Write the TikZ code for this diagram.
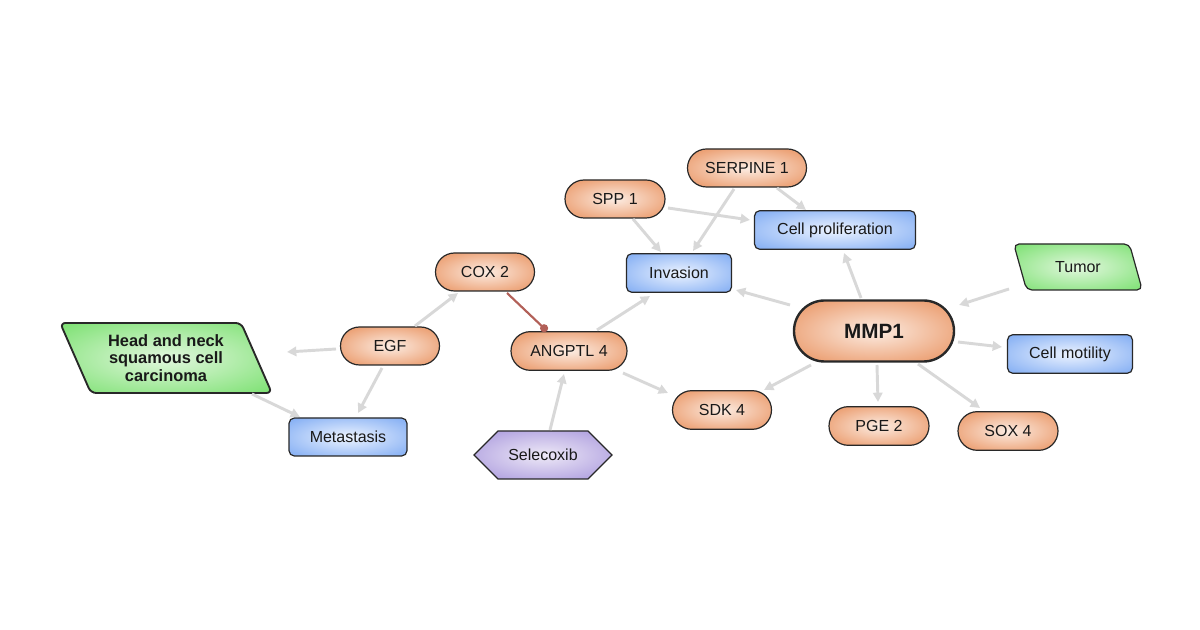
\documentclass[tikz,border=0pt]{standalone}
\usepackage{fontspec}
\setmainfont{Liberation Sans}
\usetikzlibrary{shapes.misc,shapes.geometric,shapes.symbols,arrows.meta,calc}
\definecolor{orIn}{RGB}{252,236,226}
\definecolor{orOut}{RGB}{234,152,104}
\definecolor{blIn}{RGB}{236,243,255}
\definecolor{blOut}{RGB}{136,177,244}
\definecolor{grIn}{RGB}{226,247,222}
\definecolor{grOut}{RGB}{130,226,120}
\definecolor{puIn}{RGB}{238,233,247}
\definecolor{puOut}{RGB}{172,156,222}
\definecolor{edgeC}{RGB}{216,216,216}
\definecolor{inhC}{RGB}{178,96,88}
\definecolor{lineC}{RGB}{40,40,40}
\definecolor{txtC}{RGB}{25,25,25}
\pgfdeclareradialshading{orsh}{\pgfpoint{0bp}{0bp}}{color(0bp)=(orIn); color(33bp)=(orOut); color(50bp)=(orOut)}
\pgfdeclareradialshading{blsh}{\pgfpoint{0bp}{0bp}}{color(0bp)=(blIn); color(33bp)=(blOut); color(50bp)=(blOut)}
\pgfdeclareradialshading{grsh}{\pgfpoint{0bp}{0bp}}{color(0bp)=(grIn); color(33bp)=(grOut); color(50bp)=(grOut)}
\pgfdeclareradialshading{push}{\pgfpoint{0bp}{0bp}}{color(0bp)=(puIn); color(33bp)=(puOut); color(50bp)=(puOut)}
\tikzset{
  base/.style={draw=lineC, line width=0.9pt, text=txtC, inner sep=0pt,
    font=\fontsize{12}{13.5}\selectfont},
  pill/.style={base, rounded rectangle, shading=orsh, minimum height=28.5pt},
  bluebox/.style={base, rectangle, rounded corners=4pt, shading=blsh, minimum height=29pt},
  para/.style={base, trapezium, trapezium left angle=117, trapezium right angle=63,
    trapezium stretches=true, rounded corners=4pt, shading=grsh},
  hexa/.style={base, signal, signal to=west and east, signal pointer angle=90, shading=push},
  arr/.style={draw=edgeC, line width=2.2pt, -{Triangle[length=7pt,width=7pt]}},
  inh/.style={draw=inhC, line width=1.6pt, -{Circle[length=6pt]}}
}
\begin{document}
\begin{tikzpicture}[x=0.75pt,y=-0.75pt]
\useasboundingbox (0,0) rectangle (1200,630);
% nodes
\node[para, minimum width=159pt, minimum height=52.5pt, line width=1.4pt,
  font=\bfseries\fontsize{12.3}{12.9}\selectfont, align=center] (hn) at (166,358)
  {Head and neck\\squamous cell\\carcinoma};
\node[pill, minimum width=74.25pt] (egf) at (390,346) {EGF};
\node[bluebox, minimum width=88.5pt, minimum height=28.5pt] (meta) at (348,437) {Metastasis};
\node[pill, minimum width=74.25pt] (cox) at (485,272) {COX 2};
\node[pill, minimum width=87pt, minimum height=29pt] (ang) at (569,351) {ANGPTL 4};
\node[hexa, minimum width=103.5pt, minimum height=36pt] (sel) at (543,455) {Selecoxib};
\node[pill, minimum width=74.25pt, minimum height=29pt] (sdk) at (722,410) {SDK 4};
\node[bluebox, minimum width=78.75pt] (inv) at (679,273) {Invasion};
\node[pill, minimum width=75pt] (spp) at (615,199) {SPP 1};
\node[pill, minimum width=89.25pt] (serp) at (747,168) {SERPINE 1};
\node[bluebox, minimum width=120.75pt] (prol) at (835,230) {Cell proliferation};
\node[para, minimum width=96.75pt, minimum height=34.5pt] (tum) at (1078,267) {Tumor};
\node[pill, minimum width=120pt, minimum height=45.75pt, line width=1.8pt,
  font=\bfseries\fontsize{15.5}{17}\selectfont] (mmp) at (874,331) {MMP1};
\node[bluebox, minimum width=93.75pt] (mot) at (1070,354) {Cell motility};
\node[pill, minimum width=75pt, minimum height=29pt] (pge) at (879,426) {PGE 2};
\node[pill, minimum width=75pt, minimum height=29pt] (sox) at (1008,431) {SOX 4};
% connectors
\draw[arr] ($(egf)+(-54,3)$) -- ($(hn)+(121,-6)$);
\draw[arr] ($(egf)+(25,-20)$) -- ($(cox)+(-27,21)$);
\draw[arr] ($(egf)+(-8,22)$) -- ($(meta)+(10,-24)$);
\draw[arr] ($(hn)+(86,36)$) -- ($(meta)+(-48,-20)$);
\draw[inh] ($(cox)+(22,21)$) -- ($(ang)+(-22,-20)$);
\draw[arr] ($(sel)+(7,-25)$) -- ($(ang)+(-5,23)$);
\draw[arr] ($(ang)+(28,-21)$) -- ($(inv)+(-29,23)$);
\draw[arr] ($(ang)+(54,22)$) -- ($(sdk)+(-54,-17)$);
\draw[arr] ($(spp)+(18,20)$) -- ($(inv)+(-18,-21)$);
\draw[arr] ($(spp)+(53,9)$) -- ($(prol)+(-85,-10)$);
\draw[arr] ($(serp)+(-13,21)$) -- ($(inv)+(14,-22)$);
\draw[arr] ($(serp)+(30,20)$) -- ($(prol)+(-29,-20)$);
\draw[arr] ($(mmp)+(-84,-26)$) -- ($(inv)+(57,17)$);
\draw[arr] ($(mmp)+(-13,-33)$) -- ($(prol)+(9,23)$);
\draw[arr] ($(tum)+(-69,22)$) -- ($(mmp)+(85,-26)$);
\draw[arr] ($(mmp)+(84,11)$) -- ($(mot)+(-68,-7)$);
\draw[arr] ($(mmp)+(-63,34)$) -- ($(sdk)+(42,-20)$);
\draw[arr] ($(mmp)+(3,34)$) -- ($(pge)+(-1,-24)$);
\draw[arr] ($(mmp)+(44,33)$) -- ($(sox)+(-28,-23)$);
\end{tikzpicture}
\end{document}
